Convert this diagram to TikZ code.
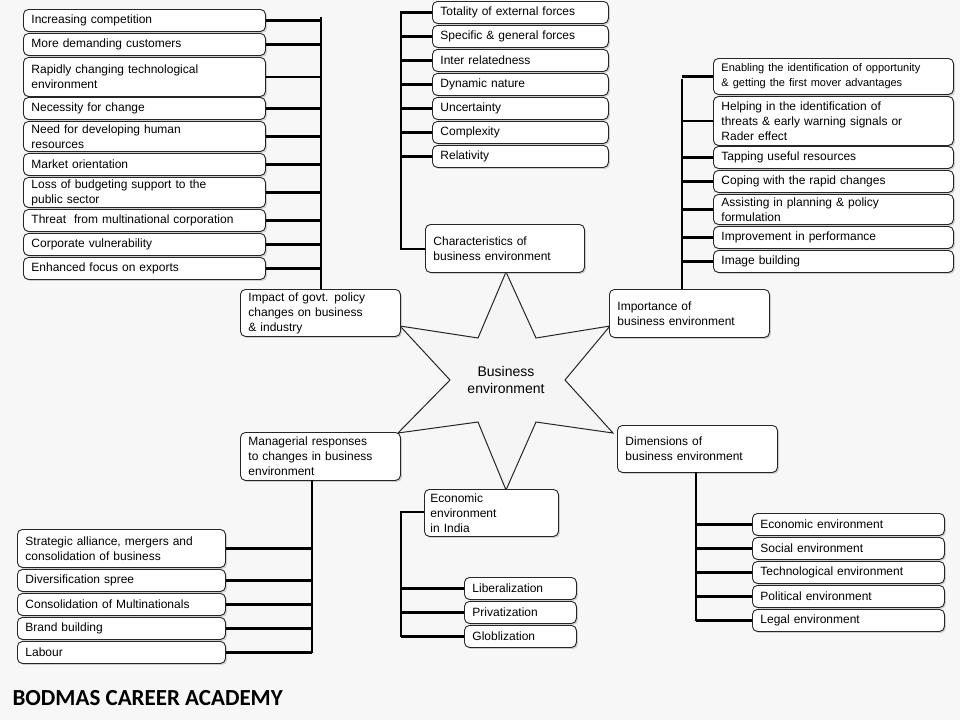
\documentclass[tikz,border=0pt]{standalone}
\usepackage{fontspec}
\setmainfont{Liberation Sans}
\newfontfamily\logofont{Carlito}
\usetikzlibrary{shadows,calc}
\hyphenpenalty=10000
\tikzset{
  bx/.style={draw=black!85, line width=0.9pt, rounded corners=5pt, fill=white,
    drop shadow={shadow xshift=1.5pt,shadow yshift=-1.5pt,opacity=0.35},
    anchor=north west, align=left, inner xsep=8pt, inner ysep=0pt,
    font=\fontsize{12}{15}\selectfont},
  ln/.style={line width=2.6pt, black},
  st/.style={draw=black!85, line width=1pt, fill=white!96!black}
}
\newcommand{\bx}[6]{\node[bx, text width=#4pt-16pt, minimum height=#5pt] (#1) at (#2,#3) {#6};}
\begin{document}
\begin{tikzpicture}[x=1pt,y=-1pt]
\useasboundingbox[fill=white!97!black] (0,0) rectangle (960,720);
% star
\draw[st] (506,272) -- (536,338) -- (610,326) -- (565,380) -- (613,433) -- (536,422) -- (506,490) -- (478,422) -- (398,433) -- (450,380) -- (400,326) -- (478,338) -- cycle;
\node[font=\fontsize{14}{17}\selectfont, align=center] (center) at (506,380) {Business\\environment};
% left list
\bx{l1}{23}{9}{242}{22}{Increasing competition}
\bx{l2}{23}{33}{242}{22}{More demanding customers}
\bx{l3}{23}{57}{242}{39}{Rapidly changing technological\\environment}
\bx{l4}{23}{97}{242}{22}{Necessity for change}
\bx{l5}{23}{121}{242}{30}{Need for developing human\\resources}
\bx{l6}{23}{153}{242}{22}{Market orientation}
\bx{l7}{23}{177}{242}{30}{Loss of budgeting support to the\\public sector}
\bx{l8}{23}{209}{242}{22}{Threat\ \ from multinational corporation}
\bx{l9}{23}{233}{242}{22}{Corporate vulnerability}
\bx{l10}{23}{257}{242}{22}{Enhanced focus on exports}
\coordinate (lt) at (321,17);
\coordinate (lb) at (321,290);
\draw[ln] (lt) -- (lb);
\foreach \i in {1,...,10}{\draw[ln] (l\i.east) -- (l\i.east -| lt);}
\bx{imp}{240}{289}{160}{47}{Impact of govt. policy\\changes on business\\\& industry}
% top middle
\bx{t1}{432}{1}{176}{22}{Totality of external forces}
\bx{t2}{432}{25}{176}{22}{Specific \& general forces}
\bx{t3}{432}{49}{176}{22}{Inter relatedness}
\bx{t4}{432}{73}{176}{22}{Dynamic nature}
\bx{t5}{432}{97}{176}{22}{Uncertainty}
\bx{t6}{432}{121}{176}{22}{Complexity}
\bx{t7}{432}{145}{176}{22}{Relativity}
\bx{char}{425}{224}{159}{48}{Characteristics of\\business environment}
\coordinate (tt) at (401,11);
\coordinate (tb) at (401,249);
\draw[ln] (tt) -- (tb) -- (tb -| char.west);
\foreach \i in {1,...,7}{\draw[ln] (t\i.west) -- (t\i.west -| tt);}
% right list
\bx{r1}{713}{58}{240}{36}{\fontsize{11}{13}\selectfont Enabling the identification of opportunity\\\fontsize{11}{13}\selectfont \& getting the first mover advantages}
\bx{r2}{713}{96}{240}{49}{Helping in the identification of\\threats \& early warning signals or\\Rader effect}
\bx{r3}{713}{146}{240}{22}{Tapping useful resources}
\bx{r4}{713}{170}{240}{22}{Coping with the rapid changes}
\bx{r5}{713}{194}{240}{30}{Assisting in planning \& policy\\formulation}
\bx{r6}{713}{226}{240}{22}{Improvement in performance}
\bx{r7}{713}{250}{240}{22}{Image building}
\coordinate (rt) at (682,79);
\coordinate (rb) at (682,290);
\draw[ln] (rt) -- (rb);
\foreach \i in {1,...,7}{\draw[ln] (r\i.west) -- (r\i.west -| rt);}
\bx{impo}{609}{289}{160}{48}{Importance of\\business environment}
% dimensions
\bx{dim}{617}{425}{160}{47}{Dimensions of\\business environment}
\bx{d1}{752}{513}{192}{22}{Economic environment}
\bx{d2}{752}{537}{192}{22}{Social environment}
\bx{d3}{752}{561}{192}{22}{Technological environment}
\bx{d4}{752}{585}{192}{22}{Political environment}
\bx{d5}{752}{609}{192}{22}{Legal environment}
\coordinate (dt) at (696,472);
\coordinate (db) at (696,621);
\draw[ln] (dt) -- (db);
\foreach \i in {1,...,5}{\draw[ln] (d\i.west) -- (d\i.west -| dt);}
% managerial
\bx{man}{240}{432}{160}{48}{Managerial responses\\to changes in business\\environment}
\bx{m1}{17}{529}{208}{38}{Strategic alliance, mergers and\\consolidation of business}
\bx{m2}{17}{569}{208}{22}{Diversification spree}
\bx{m3}{17}{593}{208}{22}{Consolidation of Multinationals}
\bx{m4}{17}{617}{208}{22}{Brand building}
\bx{m5}{17}{641}{208}{22}{Labour}
\coordinate (mt) at (312,480);
\coordinate (mb) at (312,653);
\draw[ln] (mt) -- (mb);
\foreach \i in {1,...,5}{\draw[ln] (m\i.east) -- (m\i.east -| mt);}
% economic India
\node[bx, inner xsep=6pt, text width=122pt, minimum height=47pt] (eco) at (424,489) {Economic environment\\in India};
\bx{e1}{464}{577}{112}{22}{Liberalization}
\bx{e2}{464}{601}{112}{22}{Privatization}
\bx{e3}{464}{625}{112}{22}{Globlization}
\coordinate (et) at (401,512);
\coordinate (eb) at (401,637);
\draw[ln] (eco.west |- et) -- (et) -- (eb);
\foreach \i in {1,...,3}{\draw[ln] (e\i.west) -- (e\i.west -| et);}
\node[anchor=west, font=\logofont\bfseries\fontsize{23}{27}\selectfont] (logo) at (9,698) {BODMAS CAREER ACADEMY};
\end{tikzpicture}
\end{document}
